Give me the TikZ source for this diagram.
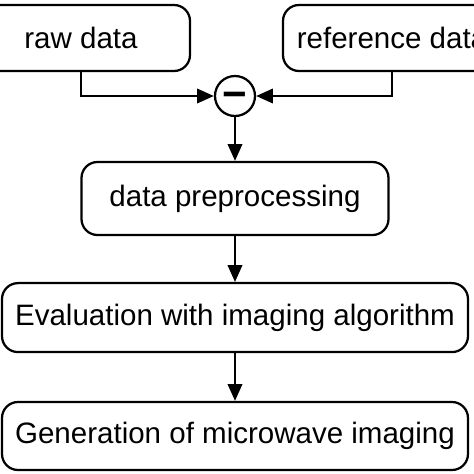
\documentclass[tikz,border=0pt]{standalone}
\usepackage{fontspec}
\setmainfont{Liberation Sans}
\usepackage{tikz}
\usetikzlibrary{arrows.meta}
\usetikzlibrary{graphs}

\begin{document}
\begin{tikzpicture}[
        font=\fontsize{21}{25}\selectfont,
        line width=1.6pt,
        stagebox/.style={draw, rounded corners=0.4cm, inner sep=0pt, align=center},
        link/.style={-{Triangle[length=0.42cm,width=0.36cm]}}]
        \useasboundingbox (0,0) rectangle (11.85,-11.85);
        \clip (0,0) rectangle (11.85,-11.85);

        \node[stagebox, minimum width=5.45cm, minimum height=1.65cm] (rawdata) at (2.025,-0.95) {raw data};
        \node[stagebox, minimum width=5.45cm, minimum height=1.65cm] (refdata) at (9.8,-0.95) {reference data};
        \node[draw, circle, minimum size=1cm, inner sep=0pt, font=\fontsize{30}{30}\selectfont\bfseries] (minus) at (5.875,-2.4) {\raisebox{-0.29em}[0pt][0pt]{−}};
        \node[stagebox, minimum width=7.675cm, minimum height=1.825cm] (preprocess) at (5.875,-4.9625) {data preprocessing};
        \node[stagebox, minimum width=11.65cm, minimum height=1.725cm] (evaluation) at (5.875,-7.94) {Evaluation with imaging algorithm};
        \node[stagebox, minimum width=11.65cm, minimum height=1.7cm] (generation) at (5.875,-10.9) {Generation of microwave imaging};

        \draw[link] (rawdata) |- (minus);
        \draw[link] (refdata) |- (minus);
        \graph[edges={link}] {(minus) -> (preprocess) -> (evaluation) -> (generation);};
    \end{tikzpicture}
\end{document}
